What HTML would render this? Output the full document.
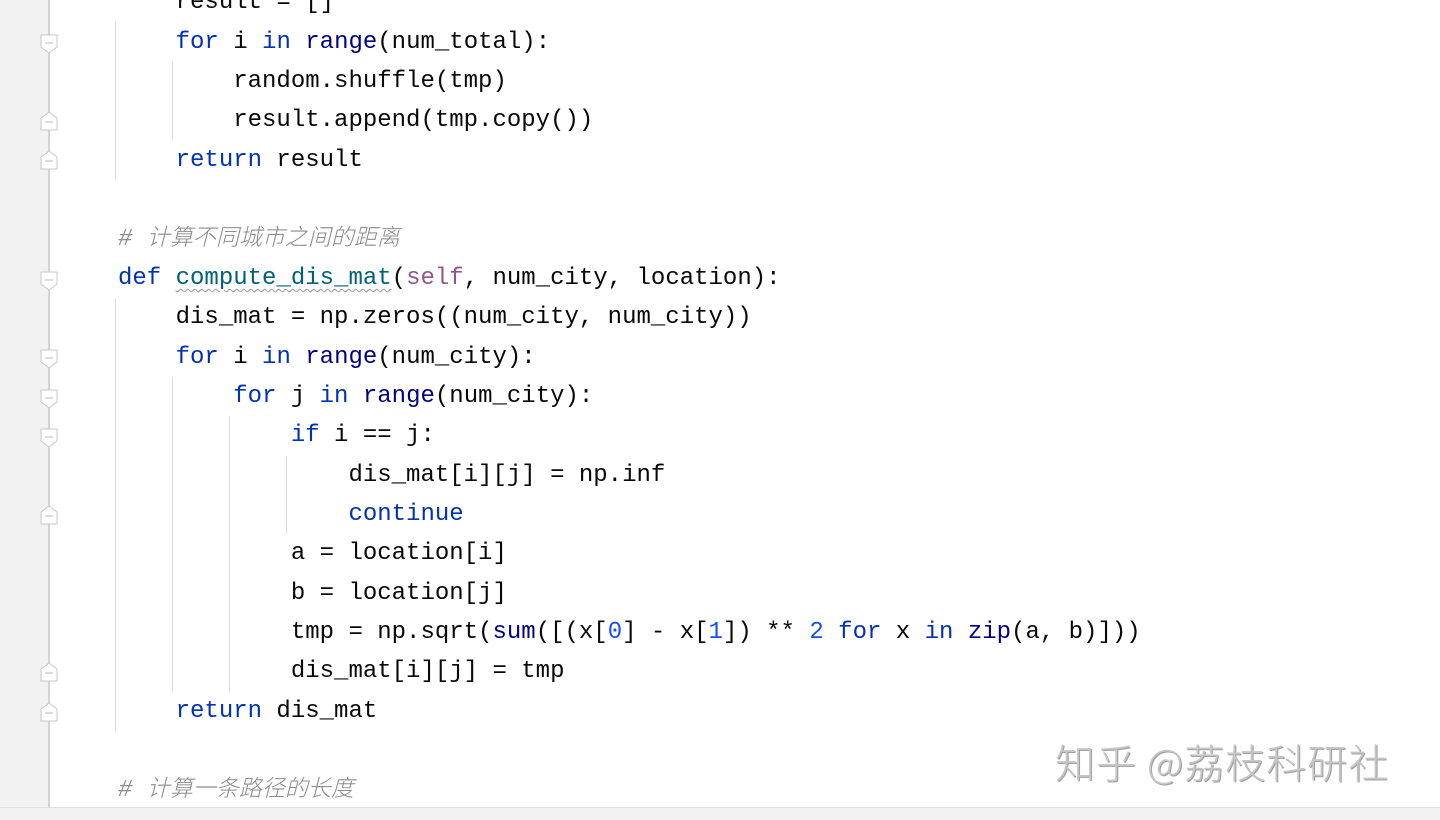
<!DOCTYPE html>
<html><head><meta charset="utf-8"><style>
html,body{margin:0;padding:0;}
body{width:1440px;height:819px;position:relative;overflow:hidden;background:#fff;font-family:"Liberation Mono","Noto Sans CJK SC",monospace;}
.gut{position:absolute;left:0;top:0;width:48px;height:807px;background:#f2f2f2;}
.gl{position:absolute;left:48px;top:0;width:2px;height:807px;background:#d4d4d4;}
.bot{position:absolute;left:0;top:807px;width:1440px;height:12px;background:#f2f2f2;border-top:1px solid #e0e0e0;}
.ln{position:absolute;left:118px;height:39px;line-height:39px;font-size:24px;color:#080808;white-space:pre;}
.k{color:#0033b3}.f{color:#00627a}.s{color:#94558d}.n{color:#1750eb}.b{color:#000080}
.c{color:#8c8c8c;font-style:italic;font-size:24px;}
.cj{font-size:23px;font-weight:300}
.w{text-decoration:underline wavy #9a9a9a;text-underline-offset:4px;text-decoration-thickness:1px}
.g{position:absolute;width:1px;background:#dcdcdc;}
.fm{position:absolute;left:40px;width:18px;height:20px;}
.wm{position:absolute;left:1055px;top:732px;font-family:"Noto Sans CJK SC",sans-serif;font-size:40px;font-weight:300;color:#c6c6c6;text-shadow:1px 1px 0 #a0a0a0;white-space:nowrap;letter-spacing:1px;}
</style></head><body>
<div class="gut"></div><div class="gl"></div>
<div class="g" style="left:115px;top:22px;height:158px"></div>
<div class="g" style="left:115px;top:298px;height:434px"></div>
<div class="g" style="left:172px;top:62px;height:78px"></div>
<div class="g" style="left:172px;top:377px;height:315px"></div>
<div class="g" style="left:229px;top:416px;height:276px"></div>
<div class="g" style="left:286px;top:456px;height:78px"></div>

<svg class="fm" style="top:34px" viewBox="0 0 18 20"><path d="M1 1H17V13L9 19L1 13Z" fill="#fff" stroke="#c8c8c8"/><path d="M5 9H13" stroke="#bbb"/></svg>
<svg class="fm" style="top:111px" viewBox="0 0 18 20"><path d="M1 19H17V7L9 1L1 7Z" fill="#fff" stroke="#c8c8c8"/><path d="M5 11H13" stroke="#bbb"/></svg>
<svg class="fm" style="top:150px" viewBox="0 0 18 20"><path d="M1 19H17V7L9 1L1 7Z" fill="#fff" stroke="#c8c8c8"/><path d="M5 11H13" stroke="#bbb"/></svg>
<svg class="fm" style="top:271px" viewBox="0 0 18 20"><path d="M1 1H17V13L9 19L1 13Z" fill="#fff" stroke="#c8c8c8"/><path d="M5 9H13" stroke="#bbb"/></svg>
<svg class="fm" style="top:349px" viewBox="0 0 18 20"><path d="M1 1H17V13L9 19L1 13Z" fill="#fff" stroke="#c8c8c8"/><path d="M5 9H13" stroke="#bbb"/></svg>
<svg class="fm" style="top:389px" viewBox="0 0 18 20"><path d="M1 1H17V13L9 19L1 13Z" fill="#fff" stroke="#c8c8c8"/><path d="M5 9H13" stroke="#bbb"/></svg>
<svg class="fm" style="top:428px" viewBox="0 0 18 20"><path d="M1 1H17V13L9 19L1 13Z" fill="#fff" stroke="#c8c8c8"/><path d="M5 9H13" stroke="#bbb"/></svg>
<svg class="fm" style="top:505px" viewBox="0 0 18 20"><path d="M1 19H17V7L9 1L1 7Z" fill="#fff" stroke="#c8c8c8"/><path d="M5 11H13" stroke="#bbb"/></svg>
<svg class="fm" style="top:662px" viewBox="0 0 18 20"><path d="M1 19H17V7L9 1L1 7Z" fill="#fff" stroke="#c8c8c8"/><path d="M5 11H13" stroke="#bbb"/></svg>
<svg class="fm" style="top:702px" viewBox="0 0 18 20"><path d="M1 19H17V7L9 1L1 7Z" fill="#fff" stroke="#c8c8c8"/><path d="M5 11H13" stroke="#bbb"/></svg>

<div class="ln" style="top:-17px">    result = []</div>
<div class="ln" style="top:23px">    <span class="k">for</span> i <span class="k">in</span> <span class="b">range</span>(num_total):</div>
<div class="ln" style="top:62px">        random.shuffle(tmp)</div>
<div class="ln" style="top:101px">        result.append(tmp.copy())</div>
<div class="ln" style="top:141px">    <span class="k">return</span> result</div>
<div class="ln" style="top:220px"><span class="c"># <span class="cj">计算不同城市之间的距离</span></span></div>
<div class="ln" style="top:259px"><span class="k">def</span> <span class="f w">compute_dis_mat</span>(<span class="s">self</span>, num_city, location):</div>
<div class="ln" style="top:298px">    dis_mat = np.zeros((num_city, num_city))</div>
<div class="ln" style="top:338px">    <span class="k">for</span> i <span class="k">in</span> <span class="b">range</span>(num_city):</div>
<div class="ln" style="top:377px">        <span class="k">for</span> j <span class="k">in</span> <span class="b">range</span>(num_city):</div>
<div class="ln" style="top:416px">            <span class="k">if</span> i == j:</div>
<div class="ln" style="top:456px">                dis_mat[i][j] = np.inf</div>
<div class="ln" style="top:495px">                <span class="k">continue</span></div>
<div class="ln" style="top:534px">            a = location[i]</div>
<div class="ln" style="top:574px">            b = location[j]</div>
<div class="ln" style="top:613px">            tmp = np.sqrt(<span class="b">sum</span>([(x[<span class="n">0</span>] - x[<span class="n">1</span>]) ** <span class="n">2</span> <span class="k">for</span> x <span class="k">in</span> <span class="b">zip</span>(a, b)]))</div>
<div class="ln" style="top:652px">            dis_mat[i][j] = tmp</div>
<div class="ln" style="top:692px">    <span class="k">return</span> dis_mat</div>
<div class="ln" style="top:771px"><span class="c"># <span class="cj">计算一条路径的长度</span></span></div>

<div class="wm">知乎 @荔枝科研社</div>
<div class="bot"></div>
</body></html>
